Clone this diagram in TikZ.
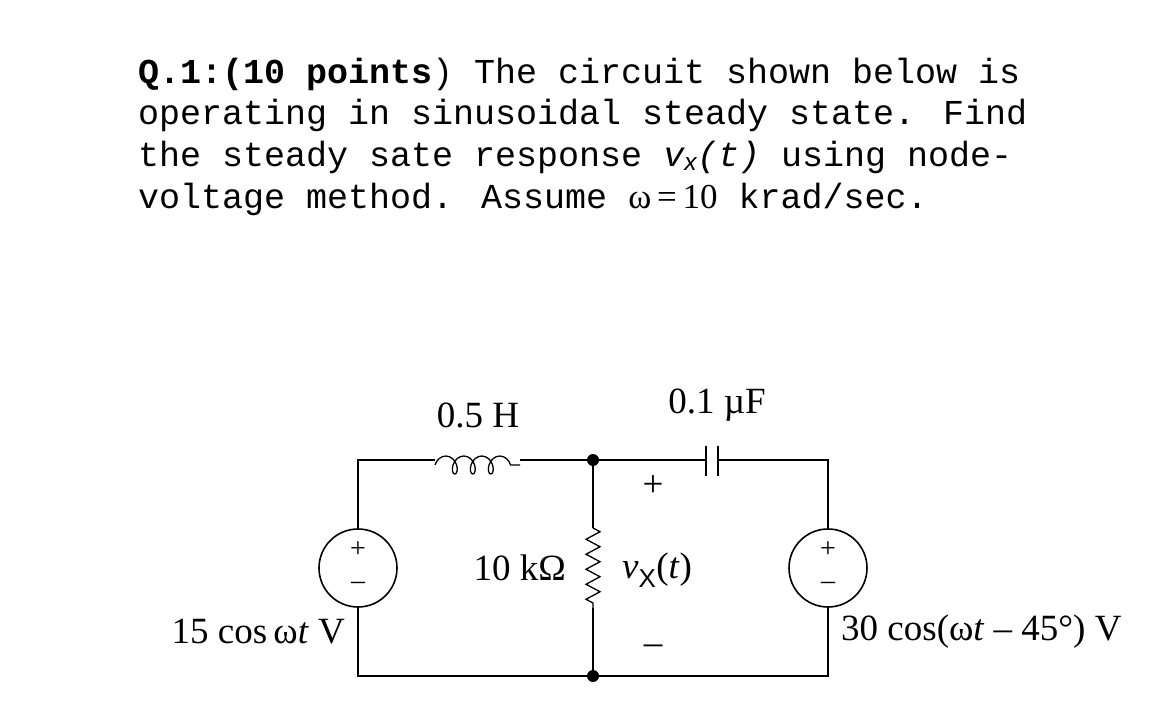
\documentclass[tikz,border=0pt]{standalone}
\usepackage{fontspec}
\setmainfont{Liberation Serif}
\newfontfamily\monofont{Liberation Mono}
\newfontfamily\sansfont{Liberation Sans}
\usetikzlibrary{decorations.pathmorphing}
\tikzset{
  wire/.style={line width=1.6pt},
  txt/.style={font=\monofont\fontsize{35}{40}\selectfont,anchor=base west,inner sep=0},
  lbl/.style={font=\fontsize{37}{42}\selectfont,inner sep=0},
  sgn/.style={font=\fontsize{28}{30}\selectfont,inner sep=0},
  dot/.style={circle,fill=black,inner sep=0,minimum size=12pt}
}
\begin{document}
\begin{tikzpicture}[x=1pt,y=-1pt]
\useasboundingbox (0,0) rectangle (1170,725);
% question text
\node [txt] (l1) at (138,83) {\textbf{Q.1:(10 points}) The circuit shown below is};
\node [txt] (l2) at (138,124) {operating in sinusoidal steady state.  Find};
\node [txt] (l3) at (138,166) {the steady sate response \textit{v\textsubscript{\sansfont x}(t)} using node-};
\node [txt] (l4) at (138,208) {voltage method. Assume {\rmfamily ω\,=\,10} krad/sec.};
% circuit points
\coordinate (TL) at (358,460);
\coordinate (BL) at (358,676);
\coordinate (TR) at (828,460);
\coordinate (BR) at (828,676);
\coordinate (LA) at (435,460);
\coordinate (LB) at (520,460);
\coordinate (CA) at (706,460);
\coordinate (CB) at (718,460);
\coordinate (RA) at (593,528);
\coordinate (RB) at (593,608);
\node [dot] (T) at (593,460) {};
\node [dot] (B) at (593,676) {};
\node [circle,draw,line width=1.6pt,minimum size=78pt,inner sep=0] (S1) at (358,568) {};
\node [circle,draw,line width=1.6pt,minimum size=78pt,inner sep=0] (S2) at (828,568) {};
% wires
\draw [wire] (S1) -- (TL) -- (LA);
\draw [wire] (LB) -- (T) -- (CA);
\draw [wire] (CB) -- (TR) -- (S2);
\draw [wire] (S1) -- (BL) -- (B) -- (BR) -- (S2);
\draw [wire] (T) -- (RA);
\draw [wire] (RB) -- (B);
% inductor
\draw [line width=1.3pt,decorate,decoration={coil,aspect=0.7,segment length=18pt,amplitude=9pt}]
  ([yshift=-5pt]LA) -- ([yshift=-5pt]LB);
% resistor
\draw [line width=1.3pt,decorate,decoration={zigzag,segment length=15pt,amplitude=7pt}] (RA) -- (RB);
% capacitor
\draw [wire] (706,446) -- (706,476);
\draw [wire] (718,446) -- (718,476);
% source signs
\node [sgn] (p1) at (358,550) {+};
\node [sgn] (m1) at (358,586) {–};
\node [sgn] (p2) at (828,550) {+};
\node [sgn] (m2) at (828,586) {–};
% labels
\node [lbl] (lL) at (478,415) {0.5 H};
\node [lbl] (lC) at (717,405) {0.1 µF};
\node [lbl,anchor=east] (lR) at (566,568) {10 kΩ};
\node [lbl] (pl) at (653,486) {+};
\node [lbl,anchor=west] (vx) at (622,570) {\textit{v}\textsubscript{\sansfont X}(\textit{t})};
\node [lbl] (mi) at (653,650) {–};
\node [lbl,anchor=east] (s1) at (345,632) {15 cos\,ω\textit{t} V};
\node [lbl,anchor=west] (s2) at (841,632) {30 cos(ω\textit{t} – 45°) V};
\end{tikzpicture}
\end{document}
